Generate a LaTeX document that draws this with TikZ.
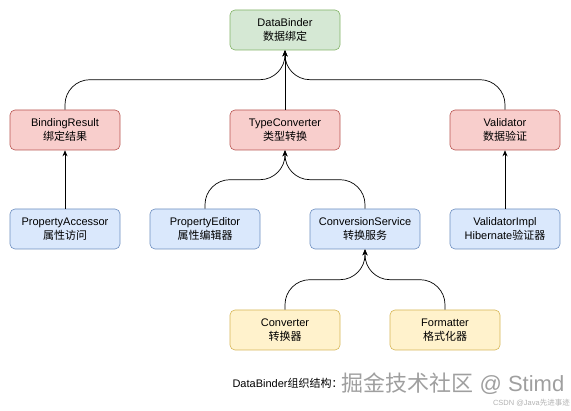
\documentclass[tikz,border=0pt]{standalone}
\usepackage{fontspec}
\setmainfont{Liberation Sans}
\newfontfamily\cjk{Noto Sans CJK SC}
\newcommand{\zh}[1]{{\cjk #1}}
\usetikzlibrary{arrows.meta}
\definecolor{gfill}{HTML}{D5E8D4}\definecolor{gline}{HTML}{82B366}
\definecolor{rfill}{HTML}{F8CECC}\definecolor{rline}{HTML}{B85450}
\definecolor{bfill}{HTML}{DAE8FC}\definecolor{bline}{HTML}{6C8EBF}
\definecolor{yfill}{HTML}{FFF2CC}\definecolor{yline}{HTML}{D6B656}

\begin{document}
\begin{tikzpicture}[x=1pt,y=1pt,
  box/.style={draw,rounded corners=5pt,minimum width=110pt,minimum height=40pt,align=center,
    font=\fontsize{11}{13.5}\selectfont,line width=0.6pt},
  greenbox/.style={box,fill=gfill,draw=gline},
  redbox/.style={box,fill=rfill,draw=rline},
  bluebox/.style={box,fill=bfill,draw=bline},
  yellowbox/.style={box,fill=yfill,draw=yline},
  arr/.style={-{Stealth[length=6pt,width=5pt]},line width=0.7pt,rounded corners=25pt}]
\useasboundingbox (0,0) rectangle (571,411);
\node[greenbox] (db) at (285,381) {DataBinder\\\zh{数据绑定}};
\node[redbox] (br) at (65,281) {BindingResult\\\zh{绑定结果}};
\node[redbox] (tc) at (285,281) {TypeConverter\\\zh{类型转换}};
\node[redbox] (va) at (505,281) {Validator\\\zh{数据验证}};
\node[bluebox] (pa) at (65,182) {PropertyAccessor\\\zh{属性访问}};
\node[bluebox] (pe) at (205,182) {PropertyEditor\\\zh{属性编辑器}};
\node[bluebox] (cs) at (365,182) {ConversionService\\\zh{转换服务}};
\node[bluebox] (vi) at (505,182) {ValidatorImpl\\Hibernate\zh{验证器}};
\node[yellowbox] (cv) at (285,81) {Converter\\\zh{转换器}};
\node[yellowbox] (fm) at (445,81) {Formatter\\\zh{格式化器}};
% connectors
\draw[arr] (br.north) -- ++(0,30) -| (db.south);
\draw[arr] (tc.north) -- (db.south);
\draw[arr] (va.north) -- ++(0,30) -| (db.south);
\draw[arr] (pa.north) -- (br.south);
\draw[arr] (pe.north) -- ++(0,29) -| (tc.south);
\draw[arr] (cs.north) -- ++(0,29) -| (tc.south);
\draw[arr] (vi.north) -- (va.south);
\draw[arr] (cv.north) -- ++(0,30) -| (cs.south);
\draw[arr] (fm.north) -- ++(0,30) -| (cs.south);
% caption
\node[anchor=west,font=\fontsize{11}{13}\selectfont] (cap) at (229,28) {DataBinder\zh{组织结构：}};
\node[anchor=west,text=gray!75,font=\fontsize{22}{24}\selectfont] (wm) at (338,27) {\zh{掘金技术社区} @ Stimd};
\node[anchor=south east,text=gray!60,font=\fontsize{7.5}{8}\selectfont,inner sep=1pt] (csdn) at (571,3) {CSDN @Java\zh{先进事迹}};
\end{tikzpicture}
\end{document}
